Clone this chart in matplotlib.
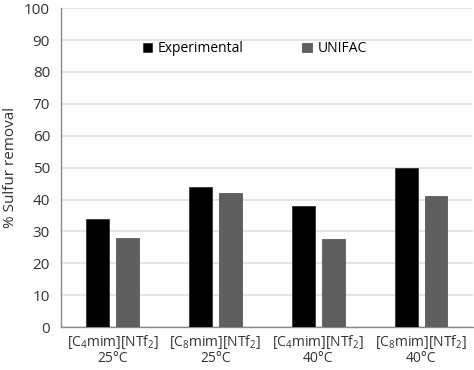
import matplotlib.pyplot as plt
import numpy as np

plt.rcParams['font.family'] = ['Open Sans', 'DejaVu Sans']
plt.rcParams['mathtext.fontset'] = 'custom'
plt.rcParams['mathtext.rm'] = 'Open Sans'
plt.rcParams['mathtext.it'] = 'Open Sans'

labels = [r'[C$_4$mim][NTf$_2$]' + '\n25°C',
          r'[C$_8$mim][NTf$_2$]' + '\n25°C',
          r'[C$_4$mim][NTf$_2$]' + '\n40°C',
          r'[C$_8$mim][NTf$_2$]' + '\n40°C']
experimental = [34, 44, 38, 50]
unifac = [28, 42, 27.5, 41]

fig = plt.figure(figsize=(4.74, 3.70), dpi=100)
ax = fig.add_axes([0.129, 0.116, 0.868, 0.862])

x = np.arange(len(labels))
w = 0.22
ax.bar(x - 0.145, experimental, w, color='black', edgecolor='#222222', linewidth=0.5,
       label='Experimental', zorder=3)
ax.bar(x + 0.145, unifac, w, color='#5f5f5f', edgecolor='#4a4a4a', linewidth=0.5,
       label='UNIFAC', zorder=3)

ax.set_xlim(-0.5, 3.5)
ax.set_ylim(0, 100)
ax.set_yticks(range(0, 101, 10))
ax.yaxis.grid(True, color='#e0e0e0', linewidth=1.2, zorder=0)
ax.set_xticks(x)
ax.set_xticklabels(labels, fontsize=10, color='#333333', linespacing=1.05)
ax.tick_params(axis='y', labelsize=11, colors='#333333', length=0, pad=8)
ax.tick_params(axis='x', length=0, pad=4)
for s in ['top', 'right']:
    ax.spines[s].set_visible(False)
for s in ['left', 'bottom']:
    ax.spines[s].set_color('#8a8a8a')
    ax.spines[s].set_linewidth(1.0)
ax.set_ylabel('% Sulfur removal', fontsize=11, color='#333333', labelpad=4)

leg = ax.legend(loc='upper center', bbox_to_anchor=(0.47, 0.935), ncol=2, frameon=False,
                fontsize=10, handlelength=0.7, handleheight=0.7, columnspacing=4.2,
                handletextpad=0.4)

fig.savefig('out.png', dpi=100)
